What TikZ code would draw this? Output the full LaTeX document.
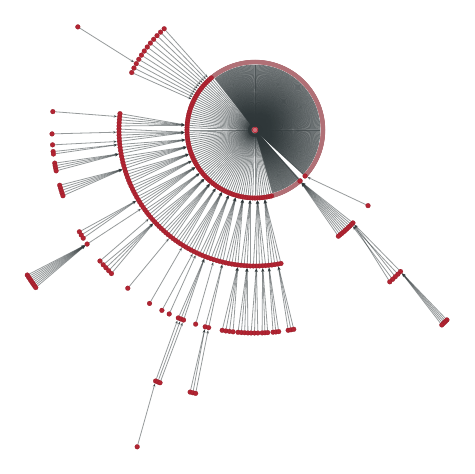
\documentclass[tikz,border=0pt]{standalone}
\usetikzlibrary{arrows.meta, backgrounds}

\definecolor{nodered}{RGB}{178,36,50}
\definecolor{rimpink}{RGB}{176,112,118}
\definecolor{linkgray}{RGB}{46,54,56}

\begin{document}
\begin{tikzpicture}[
		x=0.5pt, y=-0.5pt,
		>={Stealth[length=1.8pt,width=1.4pt]},
		vertex/.style={circle, fill=nodered, draw=nodered!80!black, line width=0.1pt, inner sep=0pt, minimum size=2.4pt},
		rimvertex/.style={circle, fill=rimpink, inner sep=0pt, minimum size=2.2pt},
		hub/.style={circle, fill=nodered!65!white, draw=nodered, line width=0.4pt, inner sep=0pt, minimum size=2.8pt},
		link/.style={->, draw=linkgray, line width=0.4pt, draw opacity=0.5},
		spoke/.style={->, draw=linkgray, line width=0.4pt, draw opacity=0.55}
		]
		
		\useasboundingbox (0,0) rectangle (474,474);
		
		\begin{scope}[shift={(255,130)}]
		
		% ==========================================
		% ROOT AND FIRST RING
		% ==========================================
		
		\node[hub] (root) at (0,0) {};
		
		% dense part of the ring (no children)
		\foreach \i in {0,...,341,352,353,...,405}{
			\pgfmathsetmacro\t{-128+0.5*\i}
			\node[rimvertex] (a\i) at (\t:68) {};
		}
		
		% sparse part of the ring (parents of the outer fans)
		\foreach \k in {0,...,77}{
			\pgfmathsetmacro\t{76+2*\k}
			\node[vertex] (b\k) at (\t:68) {};
		}
		
		% ==========================================
		% SECOND RING
		% ==========================================
		
		% lower left arc
		\foreach \j in {0,...,83}{
			\pgfmathsetmacro\t{79+1.3*\j}
			\node[vertex] (c\j) at (\t:136) {};
		}
		
		% upper left arc
		\foreach \u in {0,...,11}{
			\pgfmathsetmacro\t{205+2.1*\u}
			\node[vertex] (d\u) at (\t:136) {};
		}
		
		\node[vertex] (e0) at (210.2:205) {};
		
		% ==========================================
		% THIRD RING (lower left)
		% ==========================================
		
		\foreach \ta/\tb/\n [count=\g] in {
			185.2/185.2/1, 178.9/178.9/1, 175.8/175.8/1,
			173.9/173.2/2, 170.6/168.4/4, 164.2/161.1/5,
			149.9/147.8/3, 145.8/145.8/1, 139.8/139.8/1,
			138.4/135/4, 128.8/128.8/1, 121.3/121.3/1,
			117.3/117.3/1, 115/115/1, 112.2/110.6/3,
			107/107/1, 104.2/103.2/2, 99.3/96.2/4,
			94.8/92/4, 91.1/89.2/3, 88/86.4/3,
			84.9/83.3/3, 80.6/79/3}{
			\foreach \m in {1,...,\n}{
				\pgfmathsetmacro\t{\ta+(\tb-\ta)*(\m-1)/max(\n-1,1)}
				\node[vertex] (f\g-\m) at (\t:203) {};
			}
		}
		
		% ==========================================
		% FOURTH AND FIFTH RING (lower left)
		% ==========================================
		
		\foreach \m in {1,...,9}{
			\pgfmathsetmacro\t{147.5-0.4*(\m-1)}
			\node[vertex] (g1-\m) at (\t:270) {};
		}
		
		\foreach \m in {1,2,3}{
			\pgfmathsetmacro\t{111.6-0.5*(\m-1)}
			\node[vertex] (g2-\m) at (\t:270) {};
		}
		
		\foreach \m in {1,2,3}{
			\pgfmathsetmacro\t{103.9-0.6*(\m-1)}
			\node[vertex] (g3-\m) at (\t:270) {};
		}
		
		\node[vertex] (h1) at (110.4:338) {};
		
		% ==========================================
		% RIGHT BRANCH
		% ==========================================
		
		\node[vertex] (p) at (48.6:68) {};
		\node[vertex] (q) at (42.6:68) {};
		\node[vertex] (q1) at (33.8:136) {};
		
		\foreach \s in {1,...,10}{
			\pgfmathsetmacro\t{43.5+0.93*(\s-1)}
			\node[vertex] (s\s) at (\t:135) {};
		}
		
		\foreach \v in {1,...,5}{
			\pgfmathsetmacro\t{44.2+1.05*(\v-1)}
			\node[vertex] (t\v) at (\t:203) {};
		}
		
		\foreach \w in {1,...,5}{
			\pgfmathsetmacro\t{44.7+0.38*(\w-1)}
			\node[vertex] (k\w) at (\t:270) {};
		}
		
		\end{scope}
		
		% ==========================================
		% LINKS (child to parent)
		% ==========================================
		
		\begin{pgfonlayer}{background}
			\foreach \i in {0,...,341,352,353,...,405}
				\draw[spoke] (a\i) -- (root);
			\foreach \k in {0,...,77}
				\draw[spoke] (b\k) -- (root);
			\foreach \j in {0,...,83}{
				\pgfmathtruncatemacro\pk{3*round((1.3*\j+3)/6)}
				\draw[link] (c\j) -- (b\pk);
			}
			\foreach \u in {0,...,11}{
				\pgfmathtruncatemacro\pk{round((129+2.1*\u)/2)}
				\draw[link] (d\u) -- (b\pk);
			}
			\foreach \n/\pa [count=\g] in {
				1/185.2, 1/178.9, 1/175.8, 2/173.5, 4/169.8, 5/162.9,
				3/149, 1/145.8, 1/139.8, 4/137.6, 1/128.8, 1/121.3,
				1/117.3, 1/115, 3/111.4, 1/107, 2/103.7, 4/97.4,
				4/92.9, 3/90, 3/86.7, 3/83.8, 3/79.7}{
				\pgfmathtruncatemacro\pj{round((\pa-79)/1.3)}
				\foreach \m in {1,...,\n}
					\draw[link] (f\g-\m) -- (c\pj);
			}
			\foreach \m in {1,...,9}
				\draw[link] (g1-\m) -- (f8-1);
			\foreach \m in {1,2,3}
				\draw[link] (g2-\m) -- (f15-\m);
			\foreach \s in {1,...,10}
				\draw[link] (s\s) -- (p);
			\foreach \v in {1,...,5}{
				\pgfmathtruncatemacro\sv{isodd(\v) ? 1 : 2}
				\draw[link] (t\v) -- (s\sv);
			}
			\foreach \w in {1,...,5}
				\draw[link] (k\w) -- (t1);
			\draw[link] (e0) -- (d2);
			\draw[link] (h1) -- (g2-1);
			\draw[link] (g3-1) -- (f17-1);
			\draw[link] (g3-2) -- (f17-1);
			\draw[link] (g3-3) -- (f17-2);
			\draw[spoke] (p) -- (root);
			\draw[spoke] (q) -- (root);
			\draw[link] (q1) -- (q);
		\end{pgfonlayer}
		
	\end{tikzpicture}
\end{document}
